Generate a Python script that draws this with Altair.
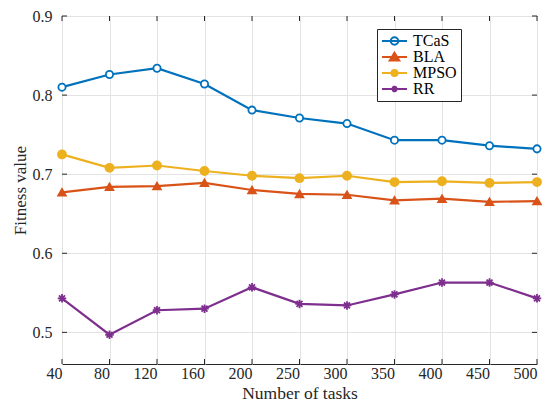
import altair as alt
import pandas as pd

tasks = ["40", "80", "120", "160", "200", "250", "300", "350", "400", "450", "500"]
series_names = ["TCaS", "BLA", "MPSO", "RR"]
tcas = [0.810, 0.826, 0.834, 0.814, 0.781, 0.771, 0.764, 0.743, 0.743, 0.736, 0.732]
bla = [0.677, 0.684, 0.685, 0.689, 0.680, 0.675, 0.674, 0.667, 0.669, 0.665, 0.666]
mpso = [0.725, 0.708, 0.711, 0.704, 0.698, 0.695, 0.698, 0.690, 0.691, 0.689, 0.690]
rr = [0.543, 0.497, 0.528, 0.530, 0.557, 0.536, 0.534, 0.548, 0.563, 0.563, 0.543]
y_ticks = [0.5, 0.6, 0.7, 0.8, 0.9]

colors = ["#0072BD", "#D95319", "#EDB120", "#7E2F8E"]
fills = ["white", "#D95319", "#EDB120", "#7E2F8E"]
star = "M-1,0L1,0M0,-1L0,1M-0.7,-0.7L0.7,0.7M-0.7,0.7L0.7,-0.7"
point_shapes = ["circle", "triangle-up", "circle", star]
point_sizes = [52, 72, 38, 42]

seg = "M-1,0L1,0"
legend_shapes = [
    seg + "M-0.3,0A0.3,0.3,0,1,1,0.3,0A0.3,0.3,0,1,1,-0.3,0Z",
    seg + "M0,-0.34L0.38,0.28L-0.38,0.28Z",
    seg + "M-0.24,0A0.24,0.24,0,1,1,0.24,0A0.24,0.24,0,1,1,-0.24,0Z",
    seg + "M-0.26,0L0.26,0M0,-0.26L0,0.26M-0.18,-0.18L0.18,0.18M-0.18,0.18L0.18,-0.18",
]

rows = []
for name, vals in zip(series_names, [tcas, bla, mpso, rr]):
    for t, v in zip(tasks, vals):
        rows.append({"task": t, "series": name, "value": v})
df = pd.DataFrame(rows)
tick_df = pd.DataFrame({"v": y_ticks})
task_df = pd.DataFrame({"task": tasks})

W, H = 475, 348
FONT = "Liberation Serif"
TXT = "#262626"

x_scale = alt.Scale(type="point", padding=0, domain=tasks)
x_enc = alt.X(
    "task:O",
    sort=tasks,
    scale=x_scale,
    axis=alt.Axis(
        title="Number of tasks", labelAngle=0, ticks=False, domain=False,
        grid=True, gridColor="#e3e3e3", labelFont=FONT, labelFontSize=16,
        labelColor=TXT, titleFont=FONT, titleFontSize=17.5, titleFontWeight="normal",
        titleColor=TXT, labelPadding=9, titlePadding=3,
    ),
)
y_scale = alt.Scale(domain=[0.46, 0.9], nice=False, zero=False)
y_enc = alt.Y(
    "value:Q",
    scale=y_scale,
    axis=alt.Axis(
        title="Fitness value", values=y_ticks, format=".1f", ticks=False,
        domain=False, grid=True, gridColor="#e3e3e3", labelFont=FONT,
        labelFontSize=16, labelColor=TXT, titleFont=FONT, titleFontSize=17,
        titleFontWeight="normal", titleColor=TXT, labelPadding=10, titlePadding=3,
    ),
)

sc = alt.Scale(domain=series_names, range=colors)
fc = alt.Scale(domain=series_names, range=fills)

base = alt.Chart(df)

lines = base.mark_line(strokeWidth=2.2).encode(
    x=x_enc, y=y_enc,
    stroke=alt.Stroke("series:N", scale=sc, legend=None),
    detail="series:N",
)

points = base.mark_point(filled=True, strokeWidth=1.8, opacity=1).encode(
    x=x_enc, y=y_enc,
    stroke=alt.Stroke("series:N", scale=sc, legend=None),
    fill=alt.Fill("series:N", scale=fc, legend=None),
    shape=alt.Shape("series:N", scale=alt.Scale(domain=series_names, range=point_shapes), legend=None),
    size=alt.Size("series:N", scale=alt.Scale(domain=series_names, range=point_sizes), legend=None),
)

leg = dict(title=None, labelFont=FONT, labelFontSize=16, labelColor="black")
legend_layer = base.transform_filter("datum.value < 0").mark_point(filled=True, strokeWidth=2, opacity=1).encode(
    x=x_enc, y=y_enc,
    stroke=alt.Stroke("series:N", scale=alt.Scale(domain=series_names, range=colors), legend=alt.Legend(**leg)),
    fill=alt.Fill("series:N", scale=alt.Scale(domain=series_names, range=fills), legend=alt.Legend(**leg)),
    shape=alt.Shape("series:N", scale=alt.Scale(domain=series_names, range=legend_shapes), legend=alt.Legend(**leg)),
)

yt_left = alt.Chart(tick_df).mark_rule(color=TXT, strokeWidth=1).encode(
    y=alt.Y("v:Q", scale=y_scale), x=alt.value(0), x2=alt.value(5)
)
yt_right = alt.Chart(tick_df).mark_rule(color=TXT, strokeWidth=1).encode(
    y=alt.Y("v:Q", scale=y_scale), x=alt.value(W - 5), x2=alt.value(W)
)
xt_bot = alt.Chart(task_df).mark_rule(color=TXT, strokeWidth=1).encode(
    x=alt.X("task:O", sort=tasks, scale=x_scale),
    y=alt.value(H - 5), y2=alt.value(H)
)
xt_top = alt.Chart(task_df).mark_rule(color=TXT, strokeWidth=1).encode(
    x=alt.X("task:O", sort=tasks, scale=x_scale),
    y=alt.value(0), y2=alt.value(5)
)

chart = alt.layer(
    yt_left, yt_right, xt_bot, xt_top, lines, points, legend_layer
).resolve_scale(
    stroke="independent", fill="independent", shape="independent", size="independent"
).properties(
    width=W, height=H,
    autosize=alt.AutoSizeParams(type="none"),
    padding={"left": 54, "top": 8, "right": 5, "bottom": 38},
    background="white",
).configure(
    font=FONT
).configure_view(
    stroke=TXT, strokeWidth=1
).configure_legend(
    orient="none", legendX=315, legendY=13, padding=4,
    strokeColor="#262626", fillColor="white", symbolSize=625,
    symbolStrokeWidth=2, clipHeight=16, rowPadding=0, labelFont=FONT,
    labelFontSize=16, labelColor="black", labelOffset=5, symbolOpacity=1,
)

chart.save("out.html", embed_options={"renderer": "svg", "actions": False})
